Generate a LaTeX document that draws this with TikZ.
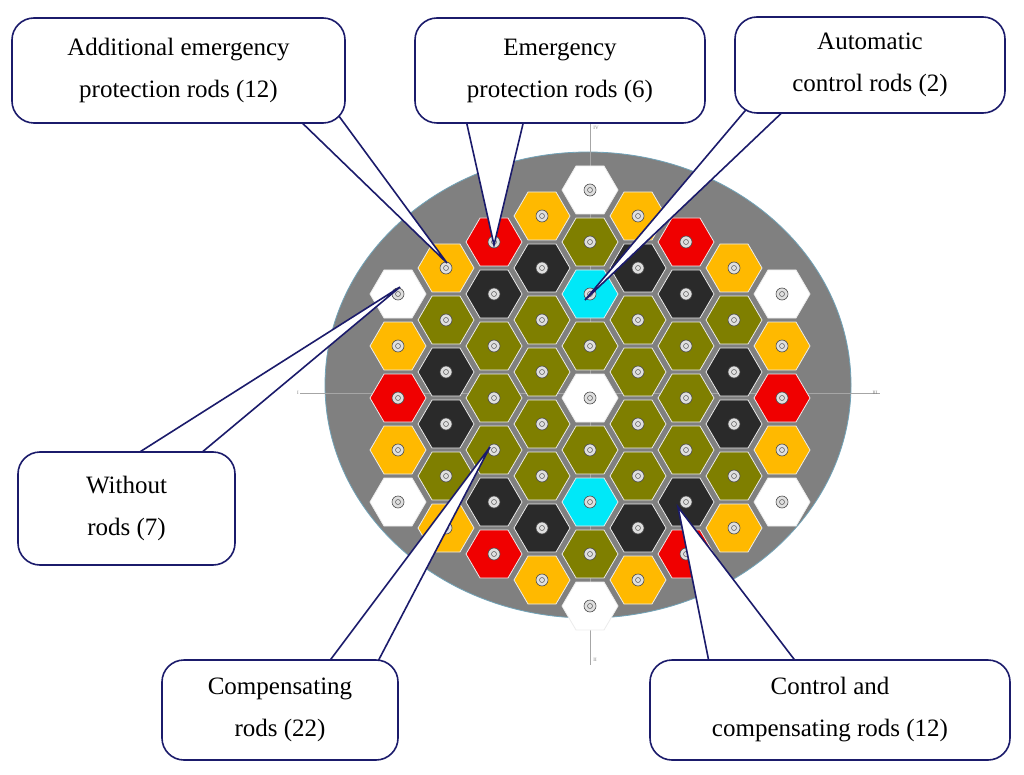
\documentclass[tikz,border=0pt]{standalone}
\usepackage{fontspec}
\setmainfont{Liberation Serif}
\usetikzlibrary{calc}
\begin{document}
\begin{tikzpicture}[x=1pt,y=-1pt,
  hexc/.style={draw=white!85!gray,line width=0.8pt},
  rod/.style={circle,draw=gray!60!black,fill=gray!25,line width=0.6pt,inner sep=0pt,minimum size=12pt},
  box/.style={draw=navyc,line width=1.6pt,fill=white,rounded corners=22pt,align=center,font=\fontsize{25}{42}\selectfont,inner sep=0pt},
  ptr/.style={draw=navyc,line width=1.6pt,fill=white,line join=miter}]
\definecolor{navyc}{HTML}{1B1B6B}
\definecolor{cW}{HTML}{FFFFFF}
\definecolor{cY}{HTML}{FFB900}
\definecolor{cR}{HTML}{F00000}
\definecolor{cO}{HTML}{7F7F00}
\definecolor{cB}{HTML}{2A2A2A}
\definecolor{cC}{HTML}{00E8F8}
\useasboundingbox (0,0) rectangle (1024,775);
\fill[white] (0,0) rectangle (1024,775);
% core disk
\draw[draw=cyan!40!gray,line width=0.8pt,fill=gray] (588,385) ellipse [x radius=263,y radius=233];
% axes
\draw[gray!70,line width=0.4pt] (300,393) -- (880,393);
\draw[gray!70,line width=0.4pt] (590,122) -- (590,665);
\node[font=\tiny,text=gray] (ax1) at (298,393) {I};
\node[font=\tiny,text=gray] (ax3) at (875,393) {III};
\node[font=\tiny,text=gray] (ax4) at (596,128) {IV};
\node[font=\tiny,text=gray] (ax2) at (595,660) {II};
% hexes
\foreach \q/\n/\cols in {-4/5/{W,Y,R,Y,W},-3/6/{Y,O,B,B,O,Y},-2/7/{R,B,O,O,O,B,R},-1/8/{Y,B,O,O,O,O,B,Y},0/9/{W,O,C,O,W,O,C,O,W},1/8/{Y,B,O,O,O,O,B,Y},2/7/{R,B,O,O,O,B,R},3/6/{Y,O,B,B,O,Y},4/5/{W,Y,R,Y,W}}{
  \foreach \c [count=\i from 0] in \cols {
    \pgfmathsetmacro\cx{590+48*\q}
    \pgfmathsetmacro\cy{398-26*(\n-1)+52*\i}
    \draw[hexc,fill=c\c] (\cx-28,\cy) -- (\cx-14,\cy-24) -- (\cx+14,\cy-24) -- (\cx+28,\cy) -- (\cx+14,\cy+24) -- (\cx-14,\cy+24) -- cycle;
    \node[rod] (r\q n\i) at (\cx,\cy) {};
    \draw[gray!70!black,line width=0.5pt] (\cx,\cy) circle (2.5);
  }
}
% targets
\coordinate (tA) at (447,263);
\coordinate (tB) at (494,245);
\coordinate (tC) at (585,300);
\coordinate (tD) at (400,287);
\coordinate (tE) at (490,447);
\coordinate (tF) at (678,507);
% callout anchors
\coordinate (cA) at (178.5,70.5);
\coordinate (cB) at (560,70.5);
\coordinate (cC) at (870,65);
\coordinate (cD) at (126.5,508.5);
\coordinate (cE) at (280,710);
\coordinate (cF) at (830,710);
% pointers (below boxes)
\draw[ptr] ($(cA)+(116,45)$) -- (tA) -- ($(cA)+(160,45)$);
\draw[ptr] ($(cB)+(-95,45)$) -- (tB) -- ($(cB)+(-35,45)$);
\draw[ptr] ($(cC)+(-120,40)$) -- (tC) -- ($(cC)+(-80,40)$);
\draw[ptr] ($(cD)+(3,-50)$) -- (tD) -- ($(cD)+(68,-50)$);
\draw[ptr] ($(cE)+(45,-43)$) -- (tE) -- ($(cE)+(95,-43)$);
\draw[ptr] ($(cF)+(-120,-43)$) -- (tF) -- ($(cF)+(-30,-43)$);
% boxes
\node[box,minimum width=333pt,minimum height=105pt] (bA) at (cA) {Additional emergency\\protection rods (12)};
\node[box,minimum width=290pt,minimum height=105pt] (bB) at (cB) {Emergency\\protection rods (6)};
\node[box,minimum width=270pt,minimum height=96pt] (bC) at (cC) {Automatic\\control rods (2)};
\node[box,minimum width=217pt,minimum height=113pt] (bD) at (cD) {Without\\rods (7)};
\node[box,minimum width=236pt,minimum height=100pt] (bE) at (cE) {Compensating\\rods (22)};
\node[box,minimum width=360pt,minimum height=100pt] (bF) at (cF) {Control and\\compensating rods (12)};
\end{tikzpicture}
\end{document}
